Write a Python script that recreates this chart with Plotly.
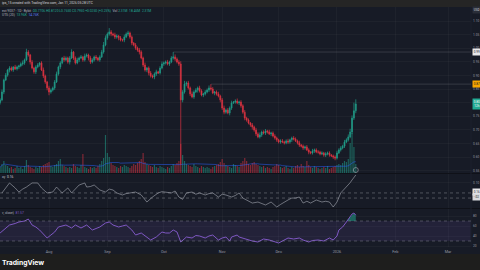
import plotly.graph_objects as go
import pandas as pd

# ---------------- data ----------------
dates = pd.date_range("2025-07-06", periods=190, freq="D")
first_open = 0.800
closes = [
    0.810, 0.839, 0.883, 0.901, 0.920, 0.927, 0.920, 0.931, 0.924, 0.931,
    0.935, 0.942, 0.946, 0.957, 0.986, 0.975, 0.949, 0.927, 0.913, 0.931,
    0.938, 0.946, 0.920, 0.898, 0.876, 0.854, 0.839, 0.846, 0.854, 0.876,
    0.905, 0.931, 0.946, 0.964, 0.957, 0.964, 0.949, 0.964, 0.986, 0.964,
    0.946, 0.957, 0.964, 0.968, 0.957, 0.971, 0.975, 0.964, 0.949, 0.957,
    0.968, 0.964, 0.957, 0.968, 0.986, 1.012, 1.038, 1.052, 1.060, 1.052,
    1.049, 1.041, 1.045, 1.038, 1.030, 1.030, 1.041, 1.052, 1.056, 1.041,
    1.019, 1.012, 1.001, 0.993, 0.986, 0.964, 0.938, 0.920, 0.927, 0.909,
    0.898, 0.894, 0.905, 0.913, 0.909, 0.927, 0.942, 0.946, 0.949, 0.942,
    0.949, 0.964, 0.968, 0.960, 0.949, 0.942, 0.810, 0.839, 0.868, 0.872,
    0.854, 0.832, 0.821, 0.839, 0.846, 0.854, 0.843, 0.828, 0.832, 0.839,
    0.846, 0.854, 0.850, 0.835, 0.839, 0.832, 0.824, 0.810, 0.780, 0.765,
    0.773, 0.762, 0.780, 0.799, 0.802, 0.806, 0.799, 0.802, 0.788, 0.765,
    0.743, 0.736, 0.725, 0.718, 0.710, 0.699, 0.685, 0.674, 0.681, 0.692,
    0.688, 0.696, 0.692, 0.685, 0.688, 0.677, 0.670, 0.663, 0.655, 0.659,
    0.655, 0.652, 0.659, 0.655, 0.663, 0.670, 0.666, 0.659, 0.652, 0.644,
    0.640, 0.633, 0.637, 0.626, 0.618, 0.615, 0.622, 0.626, 0.618, 0.618,
    0.611, 0.615, 0.607, 0.611, 0.615, 0.607, 0.604, 0.600, 0.596, 0.615,
    0.626, 0.633, 0.640, 0.655, 0.663, 0.674, 0.692, 0.743, 0.770, 0.795,
]
# wick lengths in thousandths of a price unit
upper_wick = [
    6, 9, 5, 8, 4, 7, 6, 3, 8, 5,
    4, 6, 9, 5, 12, 7, 4, 8, 5, 6,
    7, 3, 6, 9, 5, 4, 8, 6, 5, 7,
    9, 5, 6, 4, 8, 6, 5, 7, 10, 4,
    6, 8, 5, 7, 4, 9, 6, 5, 8, 6,
    5, 7, 4, 6, 8, 11, 9, 6, 14, 7,
    5, 8, 6, 4, 7, 5, 9, 6, 8, 5,
    6, 4, 7, 5, 8, 6, 5, 9, 4, 6,
    7, 5, 6, 8, 4, 7, 9, 5, 6, 8,
    5, 7, 18, 9, 6, 8, 10, 7, 12, 6,
    8, 5, 9, 6, 7, 5, 8, 6, 4, 7,
    6, 9, 14, 7, 4, 6, 8, 5, 7, 9,
    5, 7, 6, 8, 4, 6, 9, 5, 7, 6,
    8, 5, 6, 4, 7, 5, 8, 6, 9, 5,
    6, 7, 4, 8, 5, 6, 7, 5, 4, 6,
    7, 5, 6, 8, 4, 5, 7, 6, 5, 8,
    4, 6, 5, 7, 6, 4, 8, 5, 6, 7,
    5, 6, 4, 7, 5, 6, 4, 5, 6, 8,
    6, 7, 5, 8, 6, 9, 12, 10, 30, 17,
]
lower_wick = [
    7, 5, 8, 4, 6, 9, 5, 7, 4, 6,
    8, 5, 6, 7, 4, 6, 9, 5, 7, 8,
    5, 6, 4, 8, 7, 9, 12, 6, 5, 7,
    4, 6, 8, 5, 7, 5, 6, 9, 4, 7,
    6, 5, 8, 4, 7, 6, 5, 9, 7, 5,
    6, 8, 5, 7, 4, 6, 5, 7, 6, 8,
    5, 7, 6, 9, 5, 6, 8, 4, 7, 6,
    8, 5, 7, 6, 9, 5, 7, 6, 8, 9,
    6, 5, 8, 7, 4, 6, 5, 7, 6, 5,
    7, 4, 6, 8, 5, 7, 239, 9, 6, 8,
    6, 8, 5, 7, 4, 9, 6, 5, 8, 6,
    5, 7, 6, 4, 8, 6, 5, 9, 7, 8,
    6, 5, 9, 7, 4, 6, 5, 8, 7, 6,
    8, 6, 5, 7, 9, 6, 8, 5, 6, 7,
    5, 7, 6, 4, 8, 5, 6, 7, 5, 6,
    4, 6, 5, 7, 6, 8, 5, 4, 6, 7,
    5, 7, 6, 4, 8, 5, 6, 7, 4, 6,
    5, 4, 6, 7, 5, 6, 4, 7, 8, 5,
    4, 6, 5, 7, 4, 6, 5, 8, 7, 9,
]
# volume, millions
volume = [
    6, 9, 12, 8, 7, 5, 6, 4, 5, 7,
    5, 6, 4, 7, 13, 8, 6, 5, 4, 6,
    5, 7, 6, 8, 9, 10, 11, 7, 6, 8,
    9, 12, 14, 8, 7, 6, 5, 6, 5, 9,
    7, 6, 5, 8, 19, 6, 5, 4, 6, 5,
    6, 5, 7, 9, 12, 15, 38, 20, 16, 10,
    8, 7, 6, 5, 7, 6, 8, 7, 6, 5,
    7, 9, 8, 10, 12, 14, 20, 11, 9, 8,
    7, 6, 8, 6, 5, 7, 6, 5, 4, 6,
    5, 7, 9, 8, 10, 12, 29, 18, 12, 9,
    8, 7, 6, 9, 7, 6, 5, 7, 6, 5,
    6, 5, 4, 6, 7, 8, 9, 11, 14, 10,
    8, 7, 6, 5, 9, 8, 7, 6, 10, 12,
    15, 12, 9, 8, 10, 11, 9, 8, 7, 6,
    7, 5, 6, 5, 4, 6, 7, 9, 8, 6,
    5, 6, 7, 5, 4, 6, 5, 7, 8, 6,
    9, 7, 6, 12, 8, 6, 5, 7, 6, 5,
    4, 5, 6, 5, 7, 4, 5, 6, 7, 8,
    9, 8, 10, 12, 11, 14, 30, 40, 26, 9,
]
osc_idx = [1, 3, 5, 8, 10, 12, 14, 17, 20, 22, 25, 28, 30, 33, 36, 38, 40, 42, 45, 46,
           48, 50, 53, 56, 58, 60, 62, 65, 67, 69, 72, 75, 78, 81, 84, 86, 88, 91, 93, 95,
           97, 99, 102, 104, 106, 109, 111, 113, 116, 118, 120, 123, 125, 127, 129, 131, 134, 137, 139, 141,
           144, 147, 149, 151, 153, 155, 157, 159, 161, 163, 165, 168, 171, 173, 175, 177, 179, 181, 183, 184,
           186, 187, 189]
osc_val = [0.020, 0.060, 0.098, 0.059, 0.027, 0.050, 0.066, 0.098, 0.098, 0.059, 0.020, 0.027, 0.066, 0.020, 0.059, 0.020, 0.050, 0.082, 0.098, 0.066,
           0.070, 0.082, 0.043, 0.027, 0.050, 0.043, 0.020, 0.004, 0.015, 0.020, 0.027, 0.004, -0.051, -0.012, 0.020, 0.030, 0.027, 0.020, 0.035, -0.012,
           -0.030, 0.020, 0.027, 0.010, 0.020, 0.004, 0.015, 0.020, -0.012, 0.010, 0.004, -0.012, 0.000, 0.020, -0.020, -0.035, -0.059, -0.051, -0.060, -0.074,
           -0.051, -0.090, -0.070, -0.051, -0.035, -0.020, -0.020, -0.012, -0.059, -0.045, -0.059, -0.035, -0.051, -0.045, -0.051, -0.090, -0.051, 0.020, 0.050, 0.066,
           0.100, 0.121, 0.160]
rsi_idx = [0, 3, 5, 8, 10, 13, 15, 17, 19, 21, 23, 25, 27, 29, 31, 33, 35, 38, 40, 43,
           46, 49, 51, 53, 56, 58, 60, 63, 65, 67, 70, 72, 75, 78, 80, 83, 86, 88, 90, 92,
           94, 96, 99, 102, 104, 106, 109, 111, 113, 116, 118, 120, 122, 123, 126, 127, 130, 132, 134, 137,
           140, 143, 145, 148, 150, 153, 156, 159, 161, 164, 166, 169, 172, 175, 177, 179, 180, 182, 184, 186,
           187, 188, 189]
rsi_val = [46, 55, 62, 65, 68, 70, 74, 62, 58, 52, 44, 36, 42, 48, 58, 60, 62, 56, 62, 56,
           62, 52, 55, 58, 66, 68, 62, 58, 60, 62, 52, 42, 46, 38, 32, 38, 48, 46, 46, 52,
           48, 28, 38, 36, 41, 40, 36, 40, 42, 32, 36, 38, 30, 38, 42, 38, 34, 32, 30, 28,
           34, 32, 30, 26, 30, 36, 34, 36, 32, 28, 31, 32, 30, 36, 32, 40, 52, 58, 68, 78,
           84, 86, 81.57]
price_ticks = [0.55, 0.60, 0.65, 0.70, 0.75, 0.80, 0.85, 0.90, 0.95, 1.00, 1.05, 1.10]
osc_ticks = [0.1]
rsi_ticks = [20, 40, 60, 80]
month_ticks = ["2025-08-01", "2025-09-01", "2025-10-01", "2025-11-01",
               "2025-12-01", "2026-01-01", "2026-02-01", "2026-03-01"]
month_labels = ["Aug", "Sep", "Oct", "Nov", "Dec", "2026", "Feb", "Mar"]
ray_levels = [0.986, 0.868]
ray_starts = ["2025-10-06", "2025-10-26"]
ray_colors = ["#e8e8ea", "#f7a600"]

# ---------------- derived ----------------
opens = [first_open] + closes[:-1]
highs = [max(o, c) + u / 1000 for o, c, u in zip(opens, closes, upper_wick)]
lows = [min(o, c) - l / 1000 for o, c, l in zip(opens, closes, lower_wick)]
vol_ma = pd.Series(volume).rolling(20, min_periods=1).mean()

GREEN = "#22ab94"
RED = "#f23645"
BG = "#171b26"
TXT = "#9598a1"
vol_colors = ["rgba(34,171,148,0.5)" if c >= o else "rgba(242,54,69,0.5)"
              for o, c in zip(opens, closes)]

W, H = 480, 270
def py(px):
    return 1 - px / H
XR = 471 / W
x_range = ["2025-07-05 23:00", "2026-03-13 05:00"]

fig = go.Figure()
fig.add_trace(go.Bar(x=dates, y=volume, marker_color=vol_colors, marker_line_width=0,
                     width=0.62 * 86400000, xaxis="x", yaxis="y"))
fig.add_trace(go.Scatter(x=dates, y=vol_ma, mode="lines",
                         line=dict(color="rgba(41,98,255,0.5)", width=1), xaxis="x", yaxis="y"))
fig.add_trace(go.Candlestick(x=dates, open=opens, high=highs, low=lows, close=closes,
                             increasing=dict(line=dict(color=GREEN, width=0.7), fillcolor=GREEN),
                             decreasing=dict(line=dict(color=RED, width=0.7), fillcolor=RED),
                             whiskerwidth=0, opacity=0.9, xaxis="x", yaxis="y2"))
fig.add_trace(go.Scatter(x=[dates[i] for i in osc_idx], y=osc_val, mode="lines",
                         line=dict(color="rgba(190,193,202,0.65)", width=0.8), xaxis="x", yaxis="y3"))
# RSI overbought fill
ob = [(i, v) for i, v in zip(rsi_idx, rsi_val) if i >= 184]
fig.add_trace(go.Scatter(x=[dates[i] for i, _ in ob], y=[70] * len(ob), mode="lines",
                         line=dict(width=0), xaxis="x", yaxis="y4"))
fig.add_trace(go.Scatter(x=[dates[i] for i, _ in ob], y=[max(v, 70) for _, v in ob], mode="lines",
                         line=dict(width=0), fill="tonexty", fillcolor="rgba(34,171,148,0.5)",
                         xaxis="x", yaxis="y4"))
fig.add_trace(go.Scatter(x=[dates[i] for i in rsi_idx], y=rsi_val, mode="lines",
                         line=dict(color="#7e57c2", width=1), xaxis="x", yaxis="y4"))
fig.add_trace(go.Scatter(x=[dates[-1]], y=[3], mode="markers",
                         marker=dict(size=5, color="rgba(0,0,0,0)",
                                     line=dict(color="rgba(200,200,210,0.6)", width=0.8)),
                         xaxis="x", yaxis="y"))

grid = "rgba(255,255,255,0.03)"
tickf = dict(size=3.2, color=TXT, family="Roboto")
fig.update_layout(
    width=W, height=H, margin=dict(l=0, r=0, t=0, b=0),
    paper_bgcolor=BG, plot_bgcolor=BG, showlegend=False, hovermode=False,
    xaxis=dict(domain=[0, XR], anchor="y4", type="date", range=x_range,
               rangeslider=dict(visible=False), tickvals=month_ticks, ticktext=month_labels,
               tickfont=dict(size=3.8, color=TXT, family="Roboto"), showgrid=True, gridcolor=grid,
               zeroline=False, showline=False, ticks="", ticklabelstandoff=1),
    yaxis=dict(domain=[py(173), py(7)], range=[0, 166], visible=False, fixedrange=True),
    yaxis2=dict(overlaying="y", anchor="x", side="right", range=[0.5412, 1.1515],
                tickvals=price_ticks, ticktext=[f"{v:.2f}" for v in price_ticks],
                tickfont=tickf, showgrid=True, gridcolor=grid, zeroline=False, ticks="",
                ticklabelstandoff=1),
    yaxis3=dict(domain=[py(208), py(174)], anchor="x", side="right", range=[-0.0977, 0.168],
                tickvals=osc_ticks, ticktext=["0.10"], tickfont=tickf, showgrid=True,
                gridcolor=grid, zeroline=False, ticks="", ticklabelstandoff=1),
    yaxis4=dict(domain=[py(247), py(209)], anchor="x", side="right", range=[18, 94],
                tickvals=rsi_ticks, tickfont=tickf, showgrid=True, gridcolor=grid,
                zeroline=False, ticks="", ticklabelstandoff=1),
)

shapes = []
# header / footer
shapes.append(dict(type="rect", xref="paper", yref="paper", x0=0, x1=1, y0=py(7), y1=1,
                   fillcolor="#252525", line_width=0, layer="above"))
shapes.append(dict(type="rect", xref="paper", yref="paper", x0=0, x1=1, y0=0, y1=py(254),
                   fillcolor="#1e1e1d", line_width=0, layer="above"))
# pane separators
for sp in (173.5, 208.5):
    shapes.append(dict(type="line", xref="paper", yref="paper", x0=0, x1=1, y0=py(sp), y1=py(sp),
                       line=dict(color="#0f1118", width=1), layer="above"))
shapes.append(dict(type="line", xref="paper", yref="paper", x0=XR, x1=XR, y0=py(247), y1=py(7),
                   line=dict(color="#1d212c", width=1)))
# horizontal rays
for lv, st in zip(ray_levels, ray_starts):
    shapes.append(dict(type="line", xref="x", yref="y2", x0=st, x1=x_range[1], y0=lv, y1=lv,
                       line=dict(color="rgba(150,153,162,0.3)", width=0.8)))
# oscillator dotted levels
for lv in (0.02, -0.02):
    shapes.append(dict(type="line", xref="paper", yref="y3", x0=0, x1=XR, y0=lv, y1=lv,
                       line=dict(color="rgba(200,202,210,0.4)", width=0.8, dash="dot")))
# RSI band
shapes.append(dict(type="rect", xref="paper", yref="y4", x0=0, x1=XR, y0=30, y1=70,
                   fillcolor="rgba(126,87,194,0.12)", line_width=0, layer="below"))
for lv in (70, 30):
    shapes.append(dict(type="line", xref="paper", yref="y4", x0=0, x1=XR, y0=lv, y1=lv,
                       line=dict(color="rgba(150,152,165,0.5)", width=0.8, dash="dot")))
fig.update_layout(shapes=shapes)

ann = []
ann.append(dict(text="ips_15 created with TradingView.com, Jan 11, 2026 05:28 UTC", x=0.0, y=py(3.5),
                xref="paper", yref="paper", xanchor="left", yanchor="middle", showarrow=False,
                font=dict(size=3.3, color="#d1d4dc", family="Roboto")))
ann.append(dict(text=("<span style='color:#b2b5be'>ect 9037 · 1D · Bybit</span>  "
                      "<span style='color:#22ab94'>O0.7706 H0.8120 L0.7650 C0.7950 +0.0250 (+3.25%)</span>  "
                      "<span style='color:#b2b5be'>Vol</span> <span style='color:#22ab94'>2.31M  18.46M  2.31M</span>"),
                x=0.0, y=py(11), xref="paper", yref="paper", xanchor="left", yanchor="middle",
                showarrow=False, font=dict(size=3.3, family="Roboto")))
ann.append(dict(text=("<span style='color:#b2b5be'>UTS (20)</span>  <span style='color:#22ab94'>13.96K</span>"
                      "  <span style='color:#5b7cf5'>14.76K</span>"),
                x=0.0, y=py(15), xref="paper", yref="paper", xanchor="left", yanchor="middle",
                showarrow=False, font=dict(size=3.3, family="Roboto")))
ann.append(dict(text="<span style='color:#b2b5be'>ay</span>  <span style='color:#d1d4dc'>0.16</span>",
                x=0.0, y=py(177), xref="paper", yref="paper", xanchor="left", yanchor="middle",
                showarrow=False, font=dict(size=3.3, family="Roboto")))
ann.append(dict(text="<span style='color:#b2b5be'>v, close)</span>  <span style='color:#7e57c2'>81.57</span>",
                x=0.0, y=py(213), xref="paper", yref="paper", xanchor="left", yanchor="middle",
                showarrow=False, font=dict(size=3.3, family="Roboto")))
ann.append(dict(text="<b>TradingView</b>", x=0.0, y=py(262), xref="paper", yref="paper",
                xanchor="left", yanchor="middle", showarrow=False,
                font=dict(size=6.8, color="#ffffff", family="Inter")))
# right-axis price labels
for lv, col in zip(ray_levels, ray_colors):
    ann.append(dict(text=f"{lv:.2f}", x=XR + 0.002, y=lv, xref="paper", yref="y2",
                    xanchor="left", yanchor="middle", showarrow=False, bgcolor=col, borderpad=0.8,
                    font=dict(size=3.1, color="#131722", family="Roboto")))
ann.append(dict(text=f"{closes[-1]:.2f}<br>12h", x=XR + 0.002, y=closes[-1], xref="paper", yref="y2",
                xanchor="left", yanchor="middle", showarrow=False, bgcolor=GREEN, borderpad=0.8,
                font=dict(size=3.1, color="#ffffff", family="Roboto")))
ann.append(dict(text="USD", x=XR + 0.002, y=py(10.5), xref="paper", yref="paper",
                xanchor="left", yanchor="middle", showarrow=False, bgcolor="#2a2e39", borderpad=0.8,
                font=dict(size=3.0, color="#d1d4dc", family="Roboto")))
ann.append(dict(text=f"{osc_val[-1]:.2f}", x=XR + 0.002, y=0.025, xref="paper", yref="y3",
                xanchor="left", yanchor="middle", showarrow=False, bgcolor="#e8e8ea", borderpad=0.8,
                font=dict(size=3.1, color="#131722", family="Roboto")))
ann.append(dict(text="-.02", x=XR + 0.002, y=-0.015, xref="paper", yref="y3",
                xanchor="left", yanchor="middle", showarrow=False, bgcolor="#d8d9dd", borderpad=0.8,
                font=dict(size=3.1, color="#131722", family="Roboto")))
fig.update_layout(annotations=ann)

fig.write_html("out.html")
